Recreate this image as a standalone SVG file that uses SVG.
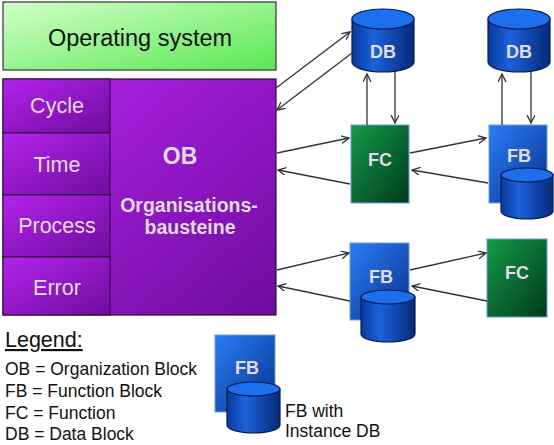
<svg xmlns="http://www.w3.org/2000/svg" width="554" height="445" viewBox="0 0 554 445">
<defs>
<linearGradient id="gOS" x1="0" y1="0" x2="1" y2="1"><stop offset="0" stop-color="#d2ffc8"/><stop offset="1" stop-color="#5ae854"/></linearGradient>
<linearGradient id="gP" x1="0" y1="0" x2="1" y2="1"><stop offset="0" stop-color="#b423ec"/><stop offset="1" stop-color="#6e0c9e"/></linearGradient>
<linearGradient id="gFC" x1="0" y1="0" x2="1" y2="1"><stop offset="0" stop-color="#149a48"/><stop offset="1" stop-color="#003a1c"/></linearGradient>
<linearGradient id="gFB" x1="0" y1="0" x2="1" y2="1"><stop offset="0" stop-color="#2a7cf8"/><stop offset="1" stop-color="#08338c"/></linearGradient>
<linearGradient id="gCyl" x1="0" y1="0" x2="1" y2="0"><stop offset="0" stop-color="#0a3a9e"/><stop offset="0.35" stop-color="#1b62dc"/><stop offset="1" stop-color="#062a78"/></linearGradient>
<marker id="ah" markerWidth="10" markerHeight="10" refX="8" refY="4" orient="auto" markerUnits="userSpaceOnUse"><path d="M0,0 L8,4 L0,8" fill="none" stroke="#333" stroke-width="1.3"/></marker>
</defs>
<style>
.lbl{font-family:"Liberation Sans",Arial,sans-serif;fill:#e2dcea;text-anchor:middle}
.b{font-weight:bold}
.blk{stroke:#6aa0e0;stroke-width:1}
.cyl{fill:url(#gCyl);stroke:#061c50;stroke-width:1.2}
.top{fill:#1e6ef0;stroke:#061c50;stroke-width:1.2}
.sub{fill:url(#gP);stroke:#2a0a3a;stroke-width:1}
.leg{font-family:"Liberation Sans",Arial,sans-serif;fill:#111;font-size:17.5px}
#connectors line{stroke:#333;stroke-width:1.3;marker-end:url(#ah)}
</style>
<rect width="554" height="445" fill="#fff"/>

<g id="os">
<rect x="3" y="2" width="273" height="68" fill="url(#gOS)" stroke="#333" stroke-width="1.2"/>
<text x="140" y="46" font-family="Liberation Sans,Arial,sans-serif" font-size="23.5" text-anchor="middle" fill="#111">Operating system</text>
</g>

<g id="ob">
<rect x="3" y="79" width="273" height="236" fill="url(#gP)" stroke="#2a0a3a" stroke-width="1.2"/>
<text class="lbl b" x="180" y="164" font-size="23">OB</text>
<text class="lbl b" x="189" y="212" font-size="19.5">Organisations-</text>
<text class="lbl b" x="190" y="234" font-size="19.5">bausteine</text>
</g>
<g id="cycle"><rect class="sub" x="3" y="79" width="107" height="54"/><text class="lbl" x="57" y="113" font-size="21.5">Cycle</text></g>
<g id="time"><rect class="sub" x="3" y="133" width="107" height="62"/><text class="lbl" x="57" y="172" font-size="21.5">Time</text></g>
<g id="process"><rect class="sub" x="3" y="195" width="107" height="62"/><text class="lbl" x="57" y="233" font-size="21.5">Process</text></g>
<g id="error"><rect class="sub" x="3" y="257" width="107" height="58"/><text class="lbl" x="57" y="295" font-size="21.5">Error</text></g>

<g id="db1">
<path class="cyl" d="M352,19 L352,62 A31,10 0 0 0 414,62 L414,19 Z"/>
<ellipse class="top" cx="383" cy="19" rx="31" ry="10"/>
<text class="lbl b" x="383" y="58" font-size="18">DB</text>
</g>
<g id="db2">
<path class="cyl" d="M488,19 L488,62 A31,10 0 0 0 550,62 L550,19 Z"/>
<ellipse class="top" cx="519" cy="19" rx="31" ry="10"/>
<text class="lbl b" x="519" y="58" font-size="18">DB</text>
</g>

<g id="fc1">
<rect class="blk" x="351" y="125" width="58" height="78" fill="url(#gFC)"/>
<text class="lbl b" x="380" y="166" font-size="18">FC</text>
</g>
<g id="fb1">
<rect class="blk" x="489" y="125" width="58" height="78" fill="url(#gFB)"/>
<text class="lbl b" x="519" y="162" font-size="18">FB</text>
<path class="cyl" d="M501,175 L501,211 A26,8 0 0 0 553,211 L553,175 Z"/>
<ellipse class="top" cx="527" cy="175" rx="26" ry="7"/>
</g>
<g id="fb2">
<rect class="blk" x="350" y="243" width="59" height="77" fill="url(#gFB)"/>
<text class="lbl b" x="381" y="283" font-size="18">FB</text>
<path class="cyl" d="M361,297 L361,334 A27,8 0 0 0 415,334 L415,297 Z"/>
<ellipse class="top" cx="388" cy="297" rx="27" ry="7"/>
</g>
<g id="fc2">
<rect class="blk" x="487" y="239" width="60" height="78" fill="url(#gFC)"/>
<text class="lbl b" x="517" y="279" font-size="18">FC</text>
</g>

<g id="connectors">
<line x1="276" y1="88" x2="350" y2="32"/>
<line x1="352" y1="53" x2="277" y2="110"/>
<line x1="277" y1="153" x2="349" y2="138"/>
<line x1="350" y1="184" x2="278" y2="170"/>
<line x1="367" y1="125" x2="367" y2="74"/>
<line x1="395" y1="72" x2="395" y2="123"/>
<line x1="410" y1="153" x2="486" y2="138"/>
<line x1="488" y1="183" x2="412" y2="170"/>
<line x1="502" y1="125" x2="502" y2="74"/>
<line x1="531" y1="72" x2="531" y2="123"/>
<line x1="277" y1="270" x2="349" y2="253"/>
<line x1="350" y1="301" x2="278" y2="286"/>
<line x1="410" y1="270" x2="486" y2="253"/>
<line x1="487" y1="301" x2="412" y2="286"/>
</g>

<g id="legend">
<text class="leg" x="5" y="347" style="font-size:21.5px" text-decoration="underline">Legend:</text>
<text class="leg" x="5" y="375">OB = Organization Block</text>
<text class="leg" x="5" y="397">FB  = Function Block</text>
<text class="leg" x="5" y="419">FC  = Function</text>
<text class="leg" x="5" y="440">DB = Data Block</text>
</g>
<g id="legend-fb">
<rect class="blk" x="215" y="335" width="60" height="77" fill="url(#gFB)"/>
<text class="lbl b" x="247" y="374" font-size="18">FB</text>
<path class="cyl" d="M227,389 L227,425 A26.5,8 0 0 0 280,425 L280,389 Z"/>
<ellipse class="top" cx="253.5" cy="389" rx="26.5" ry="7"/>
<text class="leg" x="285" y="417">FB with</text>
<text class="leg" x="285" y="437">Instance DB</text>
</g>
</svg>
